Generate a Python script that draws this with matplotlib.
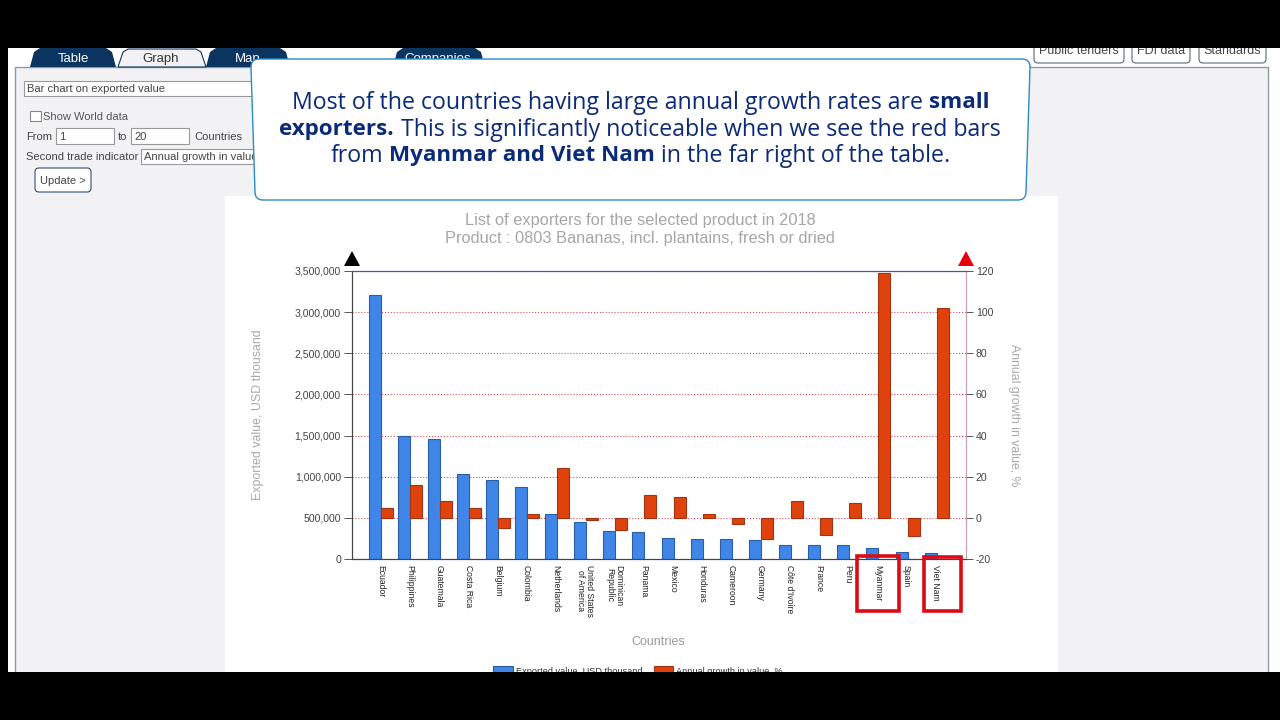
import matplotlib
matplotlib.use('Agg')
import matplotlib.pyplot as plt
from matplotlib.patches import Rectangle, FancyBboxPatch, Polygon, PathPatch
from matplotlib.path import Path

plt.rcParams['font.family'] = ['Liberation Sans', 'DejaVu Sans']

countries = ['Ecuador', 'Philippines', 'Guatemala', 'Costa Rica', 'Belgium', 'Colombia',
             'Netherlands', 'United States\nof America', 'Dominican\nRepublic', 'Panama',
             'Mexico', 'Honduras', 'Cameroon', 'Germany', "Côte d'Ivoire", 'France',
             'Peru', 'Myanmar', 'Spain', 'Viet Nam']
exported = [3208000, 1500000, 1460000, 1030000, 960000, 870000, 550000, 450000, 345000, 325000,
            250000, 245000, 245000, 235000, 175000, 175000, 165000, 130000, 85000, 70000]
growth = [5, 16, 8, 5, -5, 2, 24, -1, -6, 11, 10, 2, -3, -10.5, 8, -8.5, 7, 119, -9, 102]
left_ticks = [0, 500000, 1000000, 1500000, 2000000, 2500000, 3000000, 3500000]
right_ticks = [-20, 0, 20, 40, 60, 80, 100, 120]

W, H = 1280, 720
fig = plt.figure(figsize=(W / 100, H / 100), dpi=100, facecolor='black')

# page behind the chart, in pixel coordinates
ui = fig.add_axes([0, 0, 1, 1], zorder=0)
ui.set_xlim(0, W)
ui.set_ylim(H, 0)
ui.axis('off')
ui.add_patch(Rectangle((8, 48), 1272, 624, fc='white', ec='none'))
ui.add_patch(Rectangle((15, 67), 1253, 610, fc='#f2f2f4', ec='#8a9aac', lw=1))
ui.add_patch(Rectangle((225, 196), 833, 480, fc='white', ec='none'))

# tabs
navy = '#0b3560'
for x0, x1 in [(30, 116), (206, 290), (393, 485)]:
    ui.add_patch(Polygon([(x0, 67), (x0 + 4, 52), (x0 + 10, 48), (x1 - 10, 48), (x1 - 4, 52), (x1, 67)],
                         fc=navy, ec='none'))
ui.add_patch(Polygon([(118, 67), (123, 52), (128, 49), (196, 49), (201, 52), (206, 67)],
                     fc='#f2f2f4', ec=navy, lw=0.8))
ui.text(73, 59, 'Table', color='white', fontsize=9.5, ha='center', va='center')
ui.text(161, 59, 'Graph', color='#333333', fontsize=9.5, ha='center', va='center')
ui.text(248, 59, 'Map', color='white', fontsize=9.5, ha='center', va='center')
ui.text(438, 59, 'Companies', color='white', fontsize=9.5, ha='center', va='center')

# top right buttons
for x0, x1, label in [(1034, 1124, 'Public tenders'), (1132, 1190, 'FDI data'), (1199, 1266, 'Standards')]:
    ui.add_patch(FancyBboxPatch((x0, 38), x1 - x0, 25, boxstyle='round,pad=0,rounding_size=4',
                                fc='white', ec='#5a6a7a', lw=0.8))
    ui.text((x0 + x1) / 2, 51.5, label, color='#444444', fontsize=9, ha='center', va='center')

# form controls
def field(x0, y0, x1, y1, label=''):
    ui.add_patch(Rectangle((x0, y0), x1 - x0, y1 - y0, fc='white', ec='#999999', lw=0.8))
    ui.text(x0 + 3, (y0 + y1) / 2 + 0.5, label, color='#444444', fontsize=8, va='center')

field(24, 81, 260, 96, 'Bar chart on exported value')
ui.add_patch(Rectangle((30, 111), 11, 10, fc='white', ec='#888888', lw=0.8))
ui.text(43, 117.5, 'Show World data', color='#555555', fontsize=8, va='center')
ui.text(26, 136.5, 'From', color='#444444', fontsize=8, va='center')
field(56, 128, 114, 144, '1')
ui.text(118, 136.5, 'to', color='#444444', fontsize=8, va='center')
field(131, 128, 189, 144, '20')
ui.text(194, 136.5, 'Countries', color='#444444', fontsize=8, va='center')
ui.text(26, 156.5, 'Second trade indicator', color='#444444', fontsize=8, va='center')
field(141, 149, 260, 164, 'Annual growth in value')
ui.add_patch(FancyBboxPatch((35, 168), 56, 24, boxstyle='round,pad=0,rounding_size=4',
                            fc='white', ec='#2f4f6f', lw=0.8))
ui.text(63, 180.5, 'Update >', color='#444444', fontsize=8, ha='center', va='center')

ui.text(640, 220.5, 'List of exporters for the selected product in 2018', color='#a6a6a6',
        fontsize=11.8, ha='center', va='center')
ui.text(640, 238, 'Product : 0803 Bananas, incl. plantains, fresh or dried', color='#a6a6a6',
        fontsize=11.8, ha='center', va='center')

# the chart
ax = fig.add_axes([352 / W, 1 - 559 / H, 614 / W, 288 / H], zorder=1)
ax.patch.set_alpha(0)
pos = list(range(len(countries)))
blue_bars = ax.bar(pos, exported, width=-0.41, align='edge', color='#3f86e8', edgecolor='#2a5fa8',
                   linewidth=0.8, zorder=3, label='Exported value, USD thousand')
ax.set_xlim(-1, 20)
ax.set_ylim(0, 3500000)
# labels sit a little left of the bar join
ax.set_xticks([p - 0.03 for p in pos])
ax.set_xticklabels(countries, rotation=-90, fontsize=6.2, color='#222222', linespacing=1.0)
ax.tick_params(axis='x', length=0, pad=4)
ax.set_yticks(left_ticks)
ax.set_yticklabels([f'{v:,}' for v in left_ticks], fontsize=7.6, color='#444444')
ax.tick_params(axis='y', length=6, width=0.7, color='#555555', pad=2)
ax.grid(axis='y', color='#d8504f', linestyle=':', linewidth=0.8, zorder=1)
ax.set_axisbelow(True)
for side in ['left', 'bottom']:
    ax.spines[side].set_color('#444444')
ax.spines['top'].set_color('#2f5fa8')
ax.spines['right'].set_color('#c9a0b0')
ax.set_ylabel('Exported value, USD thousand', fontsize=8.9, color='#a8a8a8')
ax.yaxis.set_label_coords(-0.143, 0.5)
ax.set_xlabel('Countries', fontsize=9, color='#999999')
ax.xaxis.set_label_coords(0.498, -0.268)

ax2 = ax.twinx()
ax2.set_zorder(2)
red_bars = ax2.bar(pos, growth, width=0.41, align='edge', color='#e0420e', edgecolor='#a03412',
                   linewidth=0.8, zorder=3, label='Annual growth in value, %')
ax2.set_ylim(-20, 120)
ax2.set_yticks(right_ticks)
ax2.set_yticklabels(right_ticks, fontsize=7.6, color='#444444')
ax2.tick_params(axis='y', length=5, width=0.7, color='#555555', pad=2)
ax2.spines['top'].set_color('#2f5fa8')
ax2.spines['right'].set_color('#c9a0b0')
ax2.spines['left'].set_color('#444444')
ax2.spines['bottom'].set_color('#444444')
ax2.set_ylabel('Annual growth in value, %', fontsize=8.8, color='#a8a8a8', rotation=-90, va='center')
ax2.yaxis.set_label_coords(1.078, 0.5)
ax2.legend(handles=[blue_bars, red_bars], loc='center', bbox_to_anchor=(638 / W, 1 - 671 / H),
           bbox_transform=fig.transFigure, ncol=2, frameon=False, fontsize=6.6, handlelength=2.1,
           handleheight=1.2, columnspacing=1.25, handletextpad=0.35, labelcolor='#333333')

# annotations drawn over the screenshot
top = fig.add_axes([0, 0, 1, 1], zorder=3)
top.set_xlim(0, W)
top.set_ylim(H, 0)
top.axis('off')
top.add_patch(Polygon([(352, 251), (344, 266), (360, 266)], fc='black', ec='none'))
top.add_patch(Polygon([(966, 251), (958, 266), (974, 266)], fc='#e8000e', ec='none'))
top.add_patch(Rectangle((857, 556), 42, 55, fc='none', ec='#dd0a14', lw=2.6))
top.add_patch(Rectangle((924, 557), 37, 54, fc='none', ec='#dd0a14', lw=2.6))

# callout box, slightly keystoned like the slide it comes from
box_verts = [(259, 59), (1022, 59), (1030, 59), (1030, 67), (1026, 192), (1026, 200), (1018, 200),
             (263, 200), (255, 200), (255, 192), (251, 67), (251, 59), (259, 59), (259, 59)]
box_codes = [Path.MOVETO, Path.LINETO, Path.CURVE3, Path.CURVE3, Path.LINETO, Path.CURVE3, Path.CURVE3,
             Path.LINETO, Path.CURVE3, Path.CURVE3, Path.LINETO, Path.CURVE3, Path.CURVE3, Path.CLOSEPOLY]
top.add_patch(PathPatch(Path(box_verts, box_codes), fc='white', ec='#2a8cc4', lw=1))

callout = '#0b2a78'
size = 16.7
bold_size = 16.1
top.text(292, 103, 'Most of the countries having large annual growth rates are', color=callout,
         fontsize=size, va='center', family='Open Sans')
top.text(989, 103, 'small', color=callout, fontsize=bold_size, fontweight='bold', ha='right', va='center',
         family='Open Sans')
top.text(279, 130, 'exporters.', color=callout, fontsize=bold_size, fontweight='bold', va='center',
         family='Open Sans')
top.text(1001, 130, 'This is significantly noticeable when we see the red bars', color=callout,
         fontsize=size, ha='right', va='center', family='Open Sans')
top.text(331, 156, 'from', color=callout, fontsize=size, va='center', family='Open Sans')
top.text(389, 156, 'Myanmar and Viet Nam', color=callout, fontsize=bold_size, fontweight='bold', va='center',
         family='Open Sans')
top.text(950, 156, 'in the far right of the table.', color=callout, fontsize=size, ha='right', va='center',
         family='Open Sans')

# video letterbox on top of everything
top.add_patch(Rectangle((0, 0), W, 48, fc='black', ec='none', zorder=10))
top.add_patch(Rectangle((0, 672), W, 48, fc='black', ec='none', zorder=10))
top.add_patch(Rectangle((0, 0), 8, H, fc='black', ec='none', zorder=10))

fig.savefig('out.png', dpi=100, facecolor='black')
